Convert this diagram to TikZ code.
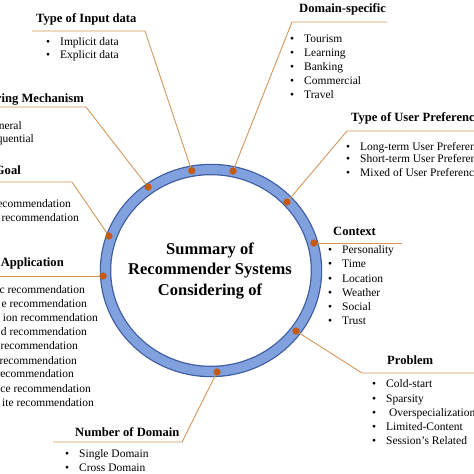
\documentclass[tikz,border=0pt]{standalone}
\usepackage{fontspec}
\setmainfont{Liberation Serif}
\definecolor{leader}{RGB}{212,150,92}
\definecolor{dotc}{RGB}{197,90,17}
\definecolor{ringfill}{RGB}{128,160,222}
\definecolor{ringedge}{RGB}{62,92,160}
\tikzset{
  ttl/.style={font=\fontsize{12.6}{14}\selectfont\bfseries, inner sep=0pt},
  itm/.style={font=\fontsize{11.5}{13}\selectfont, inner sep=0pt, anchor=mid west},
  ritm/.style={font=\fontsize{11.5}{13}\selectfont, inner sep=0pt, anchor=mid east},
  dotn/.style={circle, fill=dotc, inner sep=0pt, minimum size=7pt},
  ldr/.style={draw=leader, line width=0.9pt},
}
\newcommand{\bul}{\makebox[14pt][l]{•}}
\begin{document}
\begin{tikzpicture}[x=1pt,y=-1pt]
\useasboundingbox (0,0) rectangle (474,474);
\fill[white] (0,0) rectangle (474,474);
\clip (0,0) rectangle (474,474);
% ring
\draw[ringedge, line width=11.5pt] (211,270.5) ellipse [x radius=105.5, y radius=101];
\draw[ringfill, line width=9pt] (211,270.5) ellipse [x radius=105.5, y radius=101];
\node[font=\fontsize{16.5}{20.5}\selectfont\bfseries, align=center, inner sep=0pt] (center) at (210,271) {Summary of\\Recommender Systems\\Considering of};
% dots
\node[dotn] (d1) at (191.7,170.7) {};
\node[dotn] (d2) at (233,171) {};
\node[dotn] (d3) at (148,187) {};
\node[dotn] (d4) at (287,202) {};
\node[dotn] (d5) at (109,236) {};
\node[dotn] (d6) at (314,243) {};
\node[dotn] (d7) at (103,276) {};
\node[dotn] (d8) at (296,331) {};
\node[dotn] (d9) at (217,372) {};
% leader coordinates
\coordinate (a1) at (32,31);  \coordinate (b1) at (145,31);
\coordinate (b2) at (292,22); \coordinate (a2) at (387,22);
\coordinate (a3) at (0,107);  \coordinate (b3) at (86,107);
\coordinate (b4) at (347,131); \coordinate (a4) at (474,131);
\coordinate (a5) at (0,182);  \coordinate (b5) at (72,182);
\coordinate (a6) at (402,243);
\coordinate (a7) at (0,276);
\coordinate (b8) at (362,373); \coordinate (a8) at (474,373);
\coordinate (b9) at (182,442); \coordinate (a9) at (53,442);
\draw[ldr] (a1) -- (b1) -- (d1.center);
\draw[ldr] (d2.center) -- (b2) -- (a2);
\draw[ldr] (a3) -- (b3) -- (d3.center);
\draw[ldr] (d4.center) -- (b4) -- (a4);
\draw[ldr] (a5) -- (b5) -- (d5.center);
\draw[ldr] (d6.center) -- (a6);
\draw[ldr] (a7) -- (d7.center);
\draw[ldr] (d8.center) -- (b8) -- (a8);
\draw[ldr] (d9.center) -- (b9) -- (a9);
% redraw dots on top
\foreach \d in {d1,d2,d3,d4,d5,d6,d7,d8,d9} \fill[dotc] (\d) circle (3.5pt);
% Type of Input data
\node[ttl, anchor=mid west] (tInput) at (36,20) {Type of Input data};
\node[itm] (i1) at (46,43) {\bul Implicit data};
\node[itm] (i2) at (46,56) {\bul Explicit data};
% Domain-specific
\node[ttl, anchor=mid west] (tDomain) at (299,10) {Domain-specific};
\node[itm] (ds1) at (290,40) {\bul Tourism};
\node[itm] (ds2) at (290,54) {\bul Learning};
\node[itm] (ds3) at (290,68) {\bul Banking};
\node[itm] (ds4) at (290,82) {\bul Commercial};
\node[itm] (ds5) at (290,96) {\bul Travel};
% Filtering Mechanism
\node[ttl, anchor=mid east] (tFilter) at (84,100) {Filtering Mechanism};
\node[ritm] (f1) at (22,127) {\bul General};
\node[ritm] (f2) at (34,140) {\bul Sequential};
% Type of User Preference
\node[ttl, anchor=mid west] (tUser) at (351,119) {Type of User Preference};
\node[itm] (u1) at (346,148) {\bul Long-term User Preferences};
\node[itm] (u2) at (346,160) {\bul Short-term User Preferences};
\node[itm] (u3) at (346,174) {\bul Mixed of User Preferences};
% Goal
\node[ttl, anchor=mid east] (tGoal) at (21,172) {Goal};
\node[ritm] (g1) at (71,205) {recommendation};
\node[ritm] (g2) at (79,219) {recommendation};
% Application
\node[ttl, anchor=mid east] (tApp) at (64,264) {Application};
\node[ritm] (p1) at (85,291) {c recommendation};
\node[ritm] (p2) at (87,305) {e recommendation};
\node[ritm] (p3) at (98,319) {ion recommendation};
\node[ritm] (p4) at (87,333) {d recommendation};
\node[ritm] (p5) at (78,347) {recommendation};
\node[ritm] (p6) at (77,362) {recommendation};
\node[ritm] (p7) at (74,375) {recommendation};
\node[ritm] (p8) at (91,390) {ce recommendation};
\node[ritm] (p9) at (94,404) {ite recommendation};
% Context
\node[ttl, anchor=mid west] (tContext) at (333,233) {Context};
\node[itm] (c1) at (328,251) {\bul Personality};
\node[itm] (c2) at (328,265) {\bul Time};
\node[itm] (c3) at (328,280) {\bul Location};
\node[itm] (c4) at (328,294) {\bul Weather};
\node[itm] (c5) at (328,308) {\bul Social};
\node[itm] (c6) at (328,322) {\bul Trust};
% Problem
\node[ttl, anchor=mid west] (tProblem) at (387,362) {Problem};
\node[itm] (r1) at (372,385) {\bul Cold-start};
\node[itm] (r2) at (372,400) {\bul Sparsity};
\node[itm] (r3) at (372,414) {\bul \ Overspecialization};
\node[itm] (r4) at (372,428) {\bul Limited-Content};
\node[itm] (r5) at (372,442) {\bul Session’s Related};
% Number of Domain
\node[ttl, anchor=mid west] (tNum) at (75,434) {Number of Domain};
\node[itm] (n1) at (65,455) {\bul Single Domain};
\node[itm] (n2) at (65,469) {\bul Cross Domain};
\end{tikzpicture}
\end{document}
